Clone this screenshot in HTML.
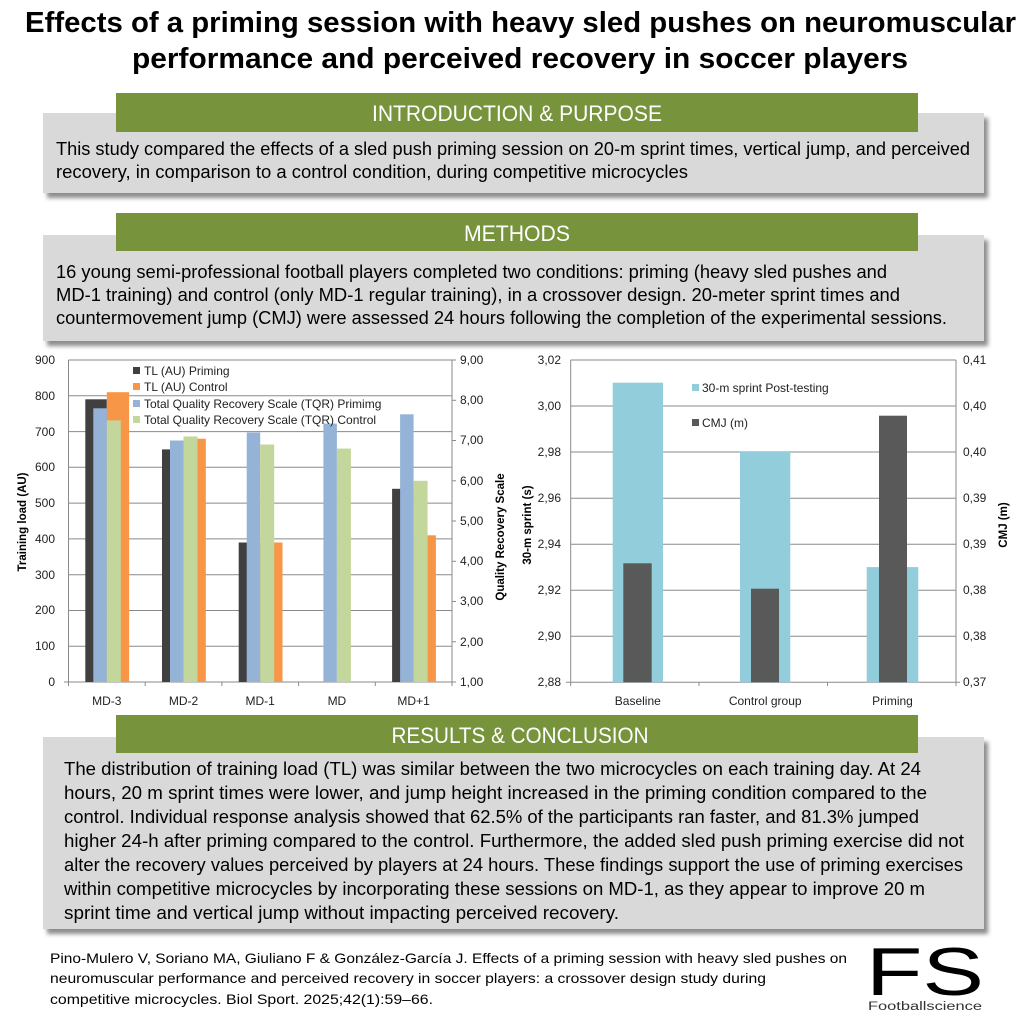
<!DOCTYPE html>
<html><head><meta charset="utf-8"><style>
html,body{margin:0;padding:0;background:#fff;}
svg{display:block;}
text{font-family:"Liberation Sans",sans-serif;}
</style></head><body>
<svg width="1024" height="1024" viewBox="0 0 1024 1024" xmlns="http://www.w3.org/2000/svg">
<defs>
<filter id="sh" x="-5%" y="-5%" width="115%" height="130%"><feDropShadow dx="4" dy="5" stdDeviation="2" flood-color="#000" flood-opacity="0.45"/></filter>
</defs>
<!-- Title -->
<text x="25" y="32" font-size="29" font-weight="bold" textLength="991" lengthAdjust="spacingAndGlyphs">Effects of a priming session with heavy sled pushes on neuromuscular</text>
<text x="132" y="68" font-size="29" font-weight="bold" textLength="776" lengthAdjust="spacingAndGlyphs">performance and perceived recovery in soccer players</text>

<!-- Intro -->
<rect x="43" y="113" width="941" height="80" fill="#d9d9d9" filter="url(#sh)"/>
<rect x="116" y="93" width="802" height="39" fill="#77933c"/>
<text x="517" y="121" font-size="22" fill="#fff" text-anchor="middle" textLength="290" lengthAdjust="spacingAndGlyphs">INTRODUCTION &amp; PURPOSE</text>
<text x="56" y="155" font-size="18" textLength="914" lengthAdjust="spacingAndGlyphs">This study compared the effects of a sled push priming session on 20-m sprint times, vertical jump, and perceived</text>
<text x="56" y="178" font-size="18" textLength="632" lengthAdjust="spacingAndGlyphs">recovery, in comparison to a control condition, during competitive microcycles</text>

<!-- Methods -->
<rect x="43" y="235" width="941" height="106" fill="#d9d9d9" filter="url(#sh)"/>
<rect x="116" y="213" width="802" height="38" fill="#77933c"/>
<text x="517" y="241" font-size="22" fill="#fff" text-anchor="middle" textLength="106" lengthAdjust="spacingAndGlyphs">METHODS</text>
<text x="56" y="278" font-size="18" textLength="831" lengthAdjust="spacingAndGlyphs">16 young semi-professional football players completed two conditions: priming (heavy sled pushes and</text>
<text x="56" y="301" font-size="18" textLength="844" lengthAdjust="spacingAndGlyphs">MD-1 training) and control (only MD-1 regular training), in a crossover design. 20-meter sprint times and</text>
<text x="56" y="324" font-size="18" textLength="891" lengthAdjust="spacingAndGlyphs">countermovement jump (CMJ) were assessed 24 hours following the completion of the experimental sessions.</text>

<!-- Left chart -->
<g stroke="#8a8a8a" stroke-width="1">
<line x1="68.5" y1="360" x2="452" y2="360"/>
<line x1="68.5" y1="395.8" x2="452" y2="395.8"/>
<line x1="68.5" y1="431.6" x2="452" y2="431.6"/>
<line x1="68.5" y1="467.3" x2="452" y2="467.3"/>
<line x1="68.5" y1="503.1" x2="452" y2="503.1"/>
<line x1="68.5" y1="538.9" x2="452" y2="538.9"/>
<line x1="68.5" y1="574.7" x2="452" y2="574.7"/>
<line x1="68.5" y1="610.5" x2="452" y2="610.5"/>
<line x1="68.5" y1="646.2" x2="452" y2="646.2"/>
<line x1="68.5" y1="360" x2="68.5" y2="682"/>
<line x1="452" y1="360" x2="452" y2="682"/>
<line x1="64" y1="682" x2="456" y2="682"/>
<line x1="68.5" y1="682" x2="68.5" y2="686"/><line x1="145.2" y1="682" x2="145.2" y2="686"/><line x1="221.9" y1="682" x2="221.9" y2="686"/><line x1="298.6" y1="682" x2="298.6" y2="686"/><line x1="375.3" y1="682" x2="375.3" y2="686"/><line x1="452" y1="682" x2="452" y2="686"/>
<line x1="452" y1="360" x2="456" y2="360"/><line x1="452" y1="400.3" x2="456" y2="400.3"/><line x1="452" y1="440.5" x2="456" y2="440.5"/><line x1="452" y1="480.8" x2="456" y2="480.8"/><line x1="452" y1="521" x2="456" y2="521"/><line x1="452" y1="561.3" x2="456" y2="561.3"/><line x1="452" y1="601.5" x2="456" y2="601.5"/><line x1="452" y1="641.8" x2="456" y2="641.8"/>
</g>
<!-- primary bars -->
<g>
<rect x="85.3" y="399.3" width="21.5" height="282.7" fill="#404040"/>
<rect x="106.8" y="392.2" width="22.3" height="289.8" fill="#f79646"/>
<rect x="162" y="449.4" width="21.5" height="232.6" fill="#404040"/>
<rect x="183.5" y="438.7" width="22.3" height="243.3" fill="#f79646"/>
<rect x="238.7" y="542.5" width="21.5" height="139.5" fill="#404040"/>
<rect x="260.2" y="542.5" width="22.3" height="139.5" fill="#f79646"/>
<rect x="392.1" y="488.8" width="21.5" height="193.2" fill="#404040"/>
<rect x="413.6" y="535.3" width="22.3" height="146.7" fill="#f79646"/>
</g>
<!-- secondary bars -->
<g>
<rect x="93.3" y="408.3" width="13.5" height="273.7" fill="#95b3d7"/>
<rect x="106.8" y="420.4" width="14" height="261.6" fill="#c3d69b"/>
<rect x="170" y="440.5" width="13.5" height="241.5" fill="#95b3d7"/>
<rect x="183.5" y="436.5" width="14" height="245.5" fill="#c3d69b"/>
<rect x="246.7" y="432.5" width="13.5" height="249.5" fill="#95b3d7"/>
<rect x="260.2" y="444.5" width="14" height="237.5" fill="#c3d69b"/>
<rect x="323.4" y="423.6" width="13.5" height="258.4" fill="#95b3d7"/>
<rect x="336.9" y="448.6" width="14" height="233.4" fill="#c3d69b"/>
<rect x="400.1" y="414.3" width="13.5" height="267.7" fill="#95b3d7"/>
<rect x="413.6" y="480.8" width="14" height="201.2" fill="#c3d69b"/>
</g>
<g font-size="12" fill="#222" text-anchor="end">
<text x="55" y="364">900</text><text x="55" y="400">800</text><text x="55" y="436">700</text><text x="55" y="471">600</text><text x="55" y="507">500</text><text x="55" y="543">400</text><text x="55" y="579">300</text><text x="55" y="614">200</text><text x="55" y="650">100</text><text x="55" y="686">0</text>
</g>
<g font-size="12" fill="#222">
<text x="460" y="364">9,00</text><text x="460" y="404">8,00</text><text x="460" y="444">7,00</text><text x="460" y="485">6,00</text><text x="460" y="525">5,00</text><text x="460" y="565">4,00</text><text x="460" y="605">3,00</text><text x="460" y="646">2,00</text><text x="460" y="686">1,00</text>
</g>
<g font-size="12" fill="#222" text-anchor="middle">
<text x="106.8" y="705">MD-3</text><text x="183.5" y="705">MD-2</text><text x="260.2" y="705">MD-1</text><text x="336.9" y="705">MD</text><text x="413.6" y="705">MD+1</text>
</g>
<text transform="translate(26,522) rotate(-90)" font-size="11.5" font-weight="bold" text-anchor="middle">Training load (AU)</text>
<text transform="translate(504,537) rotate(-90)" font-size="11.5" font-weight="bold" text-anchor="middle">Quality Recovery Scale</text>
<g font-size="12" fill="#222">
<rect x="133" y="367" width="7" height="7" fill="#404040"/><text x="144" y="375">TL (AU) Priming</text>
<rect x="133" y="383" width="7" height="7" fill="#f79646"/><text x="144" y="391">TL (AU) Control</text>
<rect x="133" y="400" width="7" height="7" fill="#95b3d7"/><text x="144" y="408">Total Quality Recovery Scale (TQR) Primimg</text>
<rect x="133" y="416" width="7" height="7" fill="#c3d69b"/><text x="144" y="424">Total Quality Recovery Scale (TQR) Control</text>
</g>

<!-- Right chart -->
<g stroke="#8a8a8a" stroke-width="1">
<line x1="570.7" y1="360" x2="956" y2="360"/>
<line x1="570.7" y1="406" x2="956" y2="406"/>
<line x1="570.7" y1="452" x2="956" y2="452"/>
<line x1="570.7" y1="498.2" x2="956" y2="498.2"/>
<line x1="570.7" y1="544.3" x2="956" y2="544.3"/>
<line x1="570.7" y1="590.2" x2="956" y2="590.2"/>
<line x1="570.7" y1="636.2" x2="956" y2="636.2"/>
<line x1="566" y1="682.3" x2="960" y2="682.3"/>
<line x1="570.7" y1="360" x2="570.7" y2="682.3"/>
<line x1="956" y1="360" x2="956" y2="682.3"/>
<line x1="570.7" y1="682" x2="570.7" y2="686"/><line x1="699" y1="682" x2="699" y2="686"/><line x1="827.5" y1="682" x2="827.5" y2="686"/><line x1="956" y1="682" x2="956" y2="686"/>
</g>
<rect x="612.7" y="382.7" width="50.3" height="299.6" fill="#92cddc"/>
<rect x="740" y="451.9" width="50.3" height="230.4" fill="#92cddc"/>
<rect x="866.7" y="567.1" width="51.6" height="115.2" fill="#92cddc"/>
<rect x="623.3" y="563.3" width="28.4" height="119" fill="#595959"/>
<rect x="751" y="588.7" width="28" height="93.6" fill="#595959"/>
<rect x="879" y="415.7" width="28" height="266.6" fill="#595959"/>
<g font-size="12" fill="#222" text-anchor="end">
<text x="561" y="364">3,02</text><text x="561" y="410">3,00</text><text x="561" y="456">2,98</text><text x="561" y="502">2,96</text><text x="561" y="548">2,94</text><text x="561" y="594">2,92</text><text x="561" y="640">2,90</text><text x="561" y="686">2,88</text>
</g>
<g font-size="12" fill="#222">
<text x="963" y="364">0,41</text><text x="963" y="410">0,40</text><text x="963" y="456">0,40</text><text x="963" y="502">0,39</text><text x="963" y="548">0,39</text><text x="963" y="594">0,38</text><text x="963" y="640">0,38</text><text x="963" y="686">0,37</text>
</g>
<g font-size="12" fill="#222" text-anchor="middle">
<text x="637.8" y="705">Baseline</text><text x="765.2" y="705">Control group</text><text x="892.5" y="705">Priming</text>
</g>
<text transform="translate(531,525) rotate(-90)" font-size="11.5" font-weight="bold" text-anchor="middle">30-m sprint  (s)</text>
<text transform="translate(1007,525) rotate(-90)" font-size="11.5" font-weight="bold" text-anchor="middle">CMJ (m)</text>
<g font-size="12" fill="#222">
<rect x="692" y="384" width="7" height="7" fill="#92cddc"/><text x="702" y="392">30-m sprint Post-testing</text>
<rect x="692" y="419" width="7" height="7" fill="#595959"/><text x="702" y="427">CMJ (m)</text>
</g>

<!-- Results -->
<rect x="43" y="737" width="941" height="192" fill="#d9d9d9" filter="url(#sh)"/>
<rect x="116" y="715" width="802" height="38" fill="#77933c"/>
<text x="520" y="743" font-size="22" fill="#fff" text-anchor="middle" textLength="257" lengthAdjust="spacingAndGlyphs">RESULTS &amp; CONCLUSION</text>
<g font-size="18.5">
<text x="64" y="775" textLength="857" lengthAdjust="spacingAndGlyphs">The distribution of training load (TL) was similar between the two microcycles on each training day. At 24</text>
<text x="64" y="799" textLength="863" lengthAdjust="spacingAndGlyphs">hours, 20 m sprint times were lower, and jump height increased in the priming condition compared to the</text>
<text x="64" y="823" textLength="855" lengthAdjust="spacingAndGlyphs">control. Individual response analysis showed that 62.5% of the participants ran faster, and 81.3% jumped</text>
<text x="64" y="847" textLength="900" lengthAdjust="spacingAndGlyphs">higher 24-h after priming compared to the control. Furthermore, the added sled push priming exercise did not</text>
<text x="64" y="871" textLength="899" lengthAdjust="spacingAndGlyphs">alter the recovery values perceived by players at 24 hours. These findings support the use of priming exercises</text>
<text x="64" y="895" textLength="861" lengthAdjust="spacingAndGlyphs">within competitive microcycles by incorporating these sessions on MD-1, as they appear to improve 20 m</text>
<text x="64" y="919" textLength="555" lengthAdjust="spacingAndGlyphs">sprint time and vertical jump without impacting perceived recovery.</text>
</g>

<!-- Citation -->
<g font-size="14">
<text x="50" y="963" textLength="797" lengthAdjust="spacingAndGlyphs">Pino-Mulero V, Soriano MA, Giuliano F &amp; González-García J. Effects of a priming session with heavy sled pushes on</text>
<text x="50" y="983" textLength="716" lengthAdjust="spacingAndGlyphs">neuromuscular performance and perceived recovery in soccer players: a crossover design study during</text>
<text x="50" y="1004" textLength="383" lengthAdjust="spacingAndGlyphs">competitive microcycles. Biol Sport. 2025;42(1):59–66.</text>
</g>
<text x="866" y="995" font-size="68" textLength="118" lengthAdjust="spacingAndGlyphs" fill="#000">FS</text>
<text x="868" y="1010" font-size="11.5" fill="#333" textLength="114" lengthAdjust="spacingAndGlyphs">Footballscience</text>
</svg>
</body></html>
